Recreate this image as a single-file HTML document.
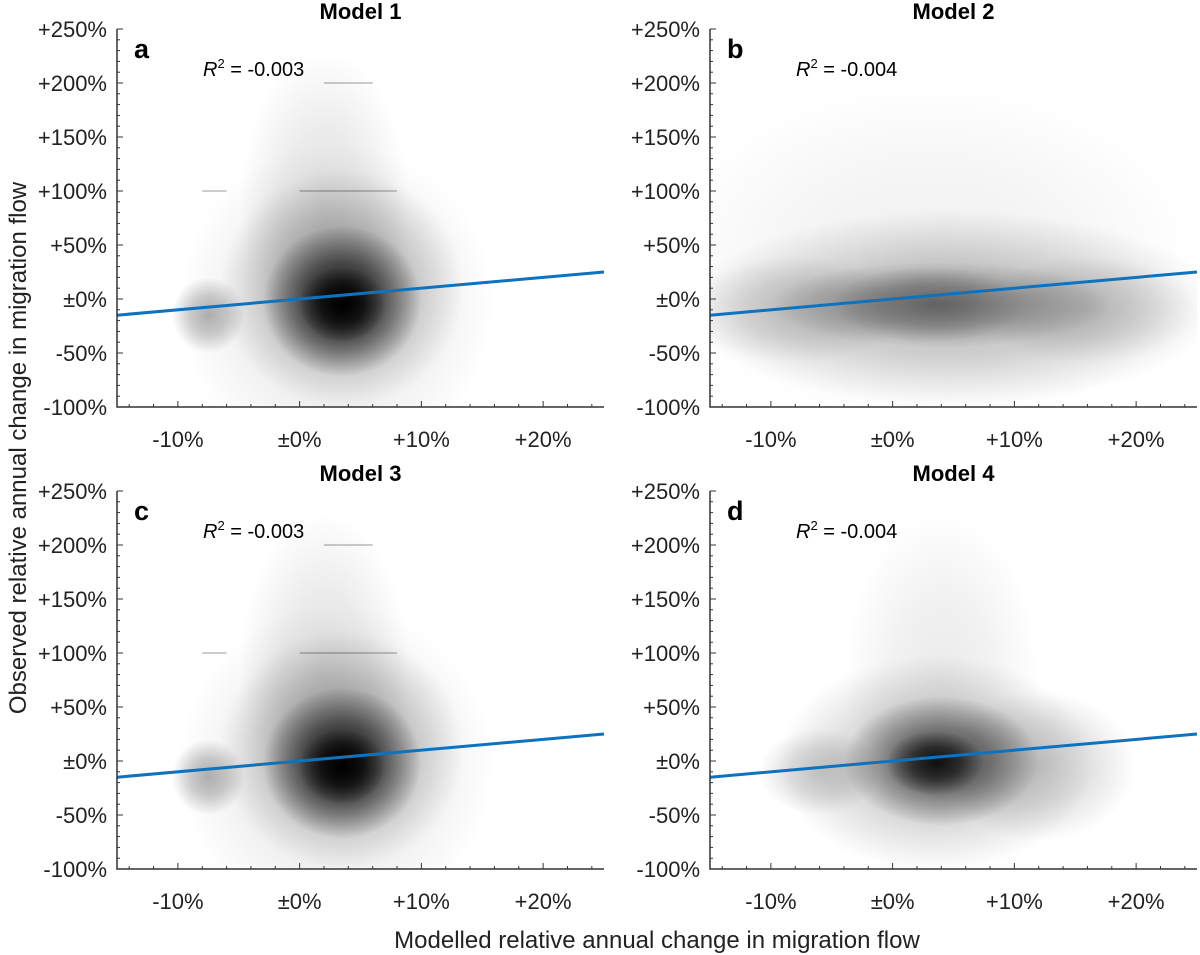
<!DOCTYPE html>
<html><head><meta charset="utf-8"><style>
html,body{margin:0;padding:0;background:#fff;}
svg{display:block;font-family:"Liberation Sans",Arial,sans-serif;}
</style></head><body>
<svg id="fig" width="1200" height="955" viewBox="0 0 1200 955">
<defs>
<radialGradient id="blob"><stop offset="0" stop-color="#000" stop-opacity="1"/><stop offset="0.5" stop-color="#000" stop-opacity="0.65"/><stop offset="1" stop-color="#000" stop-opacity="0"/></radialGradient>
</defs>
<text x="657" y="948" font-size="24" text-anchor="middle" fill="#222">Modelled relative annual change in migration flow</text>
<text transform="translate(26,448) rotate(-90)" font-size="24" text-anchor="middle" fill="#222">Observed relative annual change in migration flow</text>
</svg>
<script>
const panelTitles = ["Model 1","Model 2","Model 3","Model 4"];
const panelLetters = ["a","b","c","d"];
const r2Values = ["-0.003","-0.004","-0.003","-0.004"];
const xTicks = [-10,0,10,20];
const xTickLabels = ["-10%","±0%","+10%","+20%"];
const yTicks = [250,200,150,100,50,0,-50,-100];
const yTickLabels = ["+250%","+200%","+150%","+100%","+50%","±0%","-50%","-100%"];
// regression line endpoints (x%, y%)
const fitX = [-15,25];
const fitY = [[-15,25],[-15,25],[-15,25],[-15,25]];
// density blobs per model: centre x, centre y, half-width x, half-width y (% units), opacity
const blobCX = [
 [3.5,3.5,3.5,-7.5,3,2],
 [4,5,3,3,-8,16],
 [3.5,3.5,3.5,-7.5,3,2],
 [3.5,4,3.5,-6,12,4]];
const blobCY = [
 [-5,-2,10,-15,-5,80],
 [-5,-8,-5,40,-10,-10],
 [-5,-2,10,-15,-5,80],
 [-2,0,-2,-10,-5,80]];
const blobSX = [
 [3.5,6.5,10,3,13,7],
 [14,22,8,22,9,9],
 [3.5,6.5,10,3,13,7],
 [4,8,13,5,8,8]];
const blobSY = [
 [35,70,110,35,150,150],
 [40,90,35,160,50,50],
 [35,70,110,35,150,150],
 [30,60,100,40,70,150]];
const blobOp = [
 [1,0.85,0.3,0.3,0.12,0.12],
 [0.3,0.25,0.25,0.06,0.15,0.15],
 [1,0.85,0.3,0.3,0.12,0.12],
 [0.8,0.6,0.25,0.18,0.18,0.08]];
// horizontal streaks (x start, x end, y) for models with integer-ratio artefacts
const streakX0 = [[0,2,-8],[],[0,2,-8],[]];
const streakX1 = [[8,6,-6],[],[8,6,-6],[]];
const streakY = [[100,200,100],[],[100,200,100],[]];

const NS="http://www.w3.org/2000/svg";
const svg=document.getElementById('fig');
const lefts=[117,710,117,710], tops=[29,29,491,491], W=487, H=378;
function mk(tag,attrs,parent){const e=document.createElementNS(NS,tag);for(const k in attrs)e.setAttribute(k,attrs[k]);(parent||svg).appendChild(e);return e;}
panelTitles.forEach((t,p)=>{
  const L=lefts[p],T=tops[p];
  const sx=v=>L+(v+15)/40*W;
  const sy=v=>T+H-(v+100)/350*H;
  const g=mk('g',{});
  
  
  const clip=mk('clipPath',{id:'c'+p},g);
  mk('rect',{x:L,y:T,width:W,height:H},clip);
  const cloud=mk('g',{'clip-path':'url(#c'+p+')'},g);
  
  
  for(let i=blobCX[p].length-1;i>=0;i--){
    const e=mk('ellipse',{cx:sx(blobCX[p][i]),cy:sy(blobCY[p][i]),rx:blobSX[p][i]/40*W,ry:blobSY[p][i]/350*H,fill:'url(#blob)',opacity:blobOp[p][i]},cloud);
    
    
  }
  for(let i=0;i<streakY[p].length;i++){
    const s=mk('line',{x1:sx(streakX0[p][i]),x2:sx(streakX1[p][i]),y1:sy(streakY[p][i]),y2:sy(streakY[p][i]),stroke:'#000','stroke-opacity':0.2,'stroke-width':2},cloud);
    
    
  }
  const fl=mk('line',{x1:sx(fitX[0]),y1:sy(fitY[p][0]),x2:sx(fitX[1]),y2:sy(fitY[p][1]),stroke:'#0f72bd','stroke-width':3},g);
  
  
  const ax=mk('path',{d:`M${L} ${T}V${T+H}H${L+W}`,fill:'none',stroke:'#333','stroke-width':1.5},g);
  
  
  for(let v=-14;v<=24;v+=2){const maj=xTicks.includes(v);mk('line',{x1:sx(v),x2:sx(v),y1:T+H,y2:T+H-(maj?6:3),stroke:'#333','stroke-width':1},g);}
  for(let v=-100;v<=250;v+=10){const maj=yTicks.includes(v);mk('line',{x1:L,x2:L+(maj?6:3),y1:sy(v),y2:sy(v),stroke:'#333','stroke-width':1},g);}
  xTicks.forEach((v,i)=>{const tx=mk('text',{x:sx(v),y:T+H+40,'font-size':22,'text-anchor':'middle',fill:'#222'},g);tx.textContent=xTickLabels[i];
    
    });
  yTicks.forEach((v,i)=>{const tx=mk('text',{x:L-10,y:sy(v)+8,'font-size':22,'text-anchor':'end',fill:'#222'},g);tx.textContent=yTickLabels[i];
    
    });
  const tt=mk('text',{x:L+W/2,y:T-10,'font-size':22,'font-weight':'bold','text-anchor':'middle',fill:'#000'},g);tt.textContent=t;
  
  
  const lt=mk('text',{x:L+17,y:T+29,'font-size':27,'font-weight':'bold',fill:'#000'},g);lt.textContent=panelLetters[p];
  
  
  const rt=mk('text',{x:L+86,y:T+47,'font-size':20,fill:'#000'},g);
  
  
  rt.innerHTML='<tspan font-style="italic">R</tspan><tspan dy="-8" font-size="13">2</tspan><tspan dy="8"> = '+r2Values[p]+'</tspan>';
});
</script>
</body></html>
